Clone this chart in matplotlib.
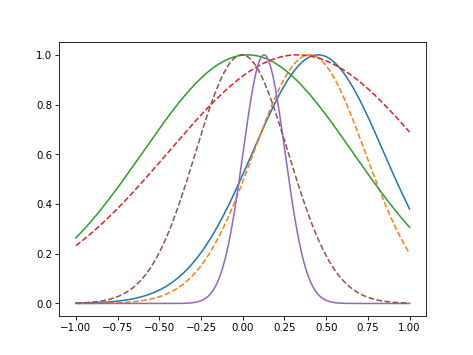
import numpy as np
import matplotlib
matplotlib.use("Agg")
import matplotlib.pyplot as plt

# gaussian bumps: centre and width of each curve
centers = [0.452, 0.40, 0.03, 0.329, 0.128, -0.005]
widths = [0.394, 0.335, 0.631, 0.778, 0.126, 0.278]
styles = ["-", "--", "-", "--", "-", "--"]

x = np.linspace(-1, 1, 400)

fig = plt.figure(figsize=(6.4, 4.8), dpi=74)
for mu, s, ls in zip(centers, widths, styles):
    plt.plot(x, np.exp(-(x - mu) ** 2 / (2 * s ** 2)), ls)
plt.savefig("out.png")
